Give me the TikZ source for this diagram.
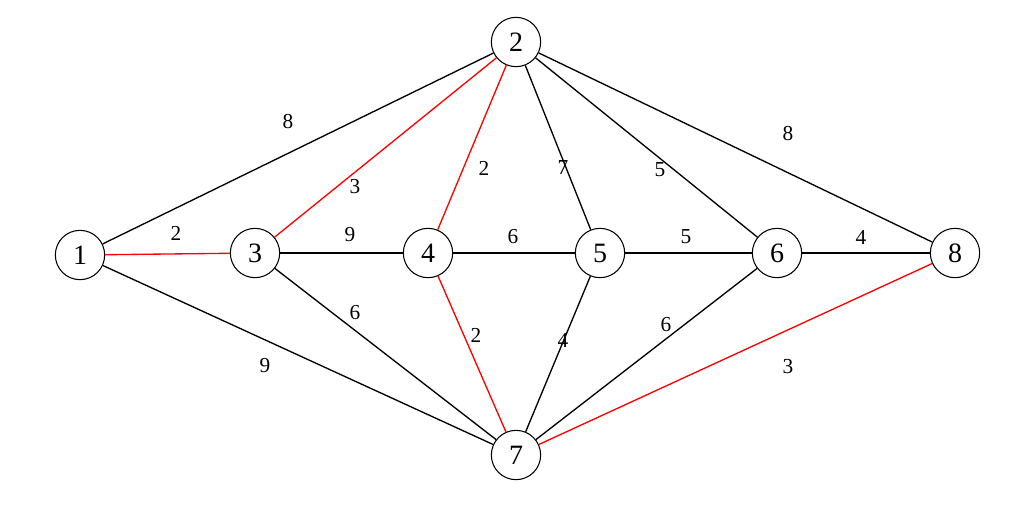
\documentclass[tikz,border=0pt]{standalone}
\usepackage{fontspec}
\setmainfont{Liberation Serif}
\begin{document}
\begin{tikzpicture}[x=0.75pt,y=-0.75pt,
  vtx/.style={circle,draw,thick,minimum size=37pt,inner sep=0pt,font=\fontsize{21}{21}\selectfont,fill=white},
  lbl/.style={font=\fontsize{16}{16}\selectfont},
  e/.style={line width=1pt,black},
  r/.style={line width=1pt,red}]
\useasboundingbox (0,0) rectangle (1028,518);
\node[vtx] (n1) at (80,255) {1};
\node[vtx] (n2) at (516,42) {2};
\node[vtx] (n3) at (255,253) {3};
\node[vtx] (n4) at (428,253) {4};
\node[vtx] (n5) at (600,253) {5};
\node[vtx] (n6) at (777,253) {6};
\node[vtx] (n8) at (955,253) {8};
\node[vtx] (n7) at (516,455) {7};
\draw[e] (n1)--(n2); \draw[r] (n1)--(n3); \draw[e] (n1)--(n7);
\draw[r] (n3)--(n2); \draw[e] (n3)--(n4); \draw[e] (n3)--(n7);
\draw[r] (n4)--(n2); \draw[e] (n4)--(n5); \draw[r] (n4)--(n7);
\draw[e] (n5)--(n2); \draw[e] (n5)--(n6); \draw[e] (n5)--(n7);
\draw[e] (n6)--(n2); \draw[e] (n6)--(n8); \draw[e] (n6)--(n7);
\draw[e] (n8)--(n2); \draw[r] (n8)--(n7);
\node[lbl] (l12) at (288,122) {8};
\node[lbl] (l13) at (176,233) {2};
\node[lbl] (l17) at (265,366) {9};
\node[lbl] (l32) at (355,187) {3};
\node[lbl] (l34) at (350,235) {9};
\node[lbl] (l37) at (355,313) {6};
\node[lbl] (l42) at (484,168) {2};
\node[lbl] (l45) at (513,237) {6};
\node[lbl] (l47) at (476,335) {2};
\node[lbl] (l52) at (563,168) {7};
\node[lbl] (l56) at (686,237) {5};
\node[lbl] (l57) at (563,340) {4};
\node[lbl] (l62) at (660,170) {5};
\node[lbl] (l68) at (861,237) {4};
\node[lbl] (l67) at (666,325) {6};
\node[lbl] (l82) at (788,134) {8};
\node[lbl] (l87) at (788,367) {3};
\end{tikzpicture}
\end{document}
